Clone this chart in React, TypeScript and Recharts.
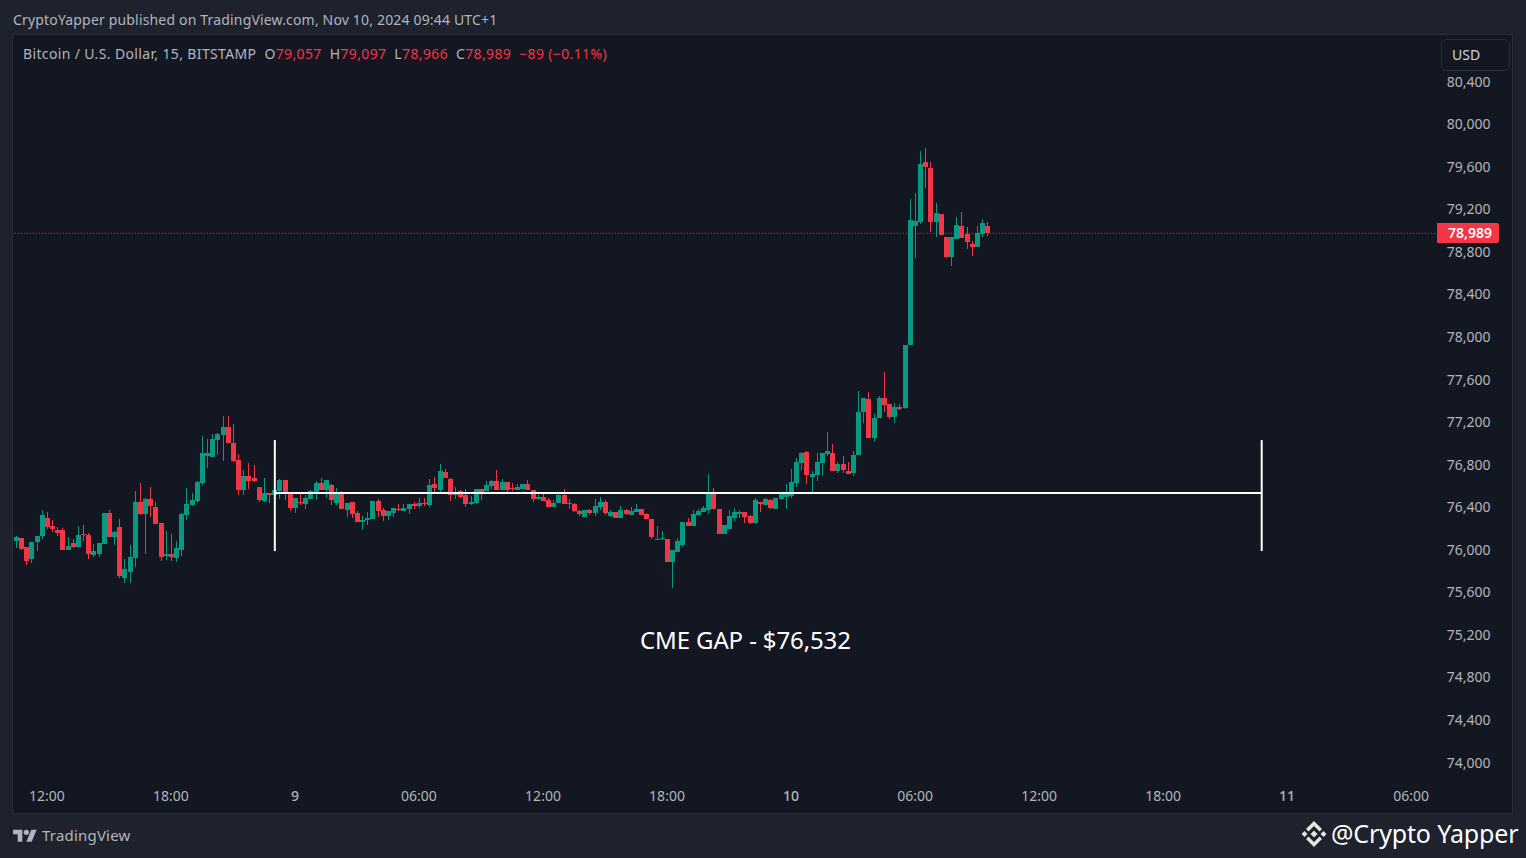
import { ComposedChart, Bar, XAxis, YAxis, ReferenceLine } from 'recharts'

// 15 minute candles, first one is 10:30 on Nov 8
const opens = [
  76097, 76125, 76041, 75928, 76088, 76144, 76313, 76238, 76201, 76201,
  76013, 76078, 76041, 76163, 76154, 75966, 75975, 76069, 76360, 76135,
  76229, 75749, 75806, 75937, 76464, 76351, 76492, 76417, 76266, 75956,
  75975, 75937, 76013, 76341, 76435, 76473, 76642, 76896, 76887, 77046,
  77093, 77169, 77018, 76858, 76576, 76708, 76689, 76605, 76473, 76548,
  76529, 76567, 76670, 76548, 76407, 76464, 76445, 76492, 76558, 76642,
  76576, 76623, 76454, 76558, 76388, 76464, 76360, 76276, 76295, 76304,
  76473, 76388, 76332, 76360, 76398, 76379, 76398, 76445, 76426, 76454,
  76435, 76633, 76576, 76746, 76680, 76529, 76567, 76529, 76445, 76454,
  76586, 76567, 76614, 76661, 76576, 76652, 76595, 76576, 76586, 76633,
  76576, 76492, 76511, 76482, 76417, 76454, 76529, 76448, 76445, 76379,
  76323, 76388, 76360, 76417, 76464, 76332, 76370, 76313, 76388, 76341,
  76370, 76398, 76351, 76304, 76107, 76113, 76116, 75900, 75994, 76060,
  76276, 76238, 76341, 76370, 76388, 76548, 76398, 76163, 76210, 76313,
  76351, 76370, 76332, 76266, 76464, 76435, 76482, 76398, 76492, 76511,
  76520, 76642, 76830, 76934, 76699, 76717, 76830, 76915, 76924, 76755,
  76821, 76755, 76736, 76905, 77310, 77432, 77065, 77253, 77441, 77385,
  77263, 77357, 77347, 77939, 79058, 79095, 79659, 79603, 79095, 79171,
  78954, 78766, 78936, 79058, 78983, 78889, 78860, 78983, 79057,
]
const highs = [
  76144, 76125, 76041, 76088, 76144, 76388, 76370, 76295, 76229, 76219,
  76135, 76116, 76238, 76248, 76172, 76069, 76078, 76360, 76388, 76191,
  76304, 75928, 76060, 76567, 76642, 76501, 76605, 76464, 76266, 76191,
  76163, 76097, 76360, 76595, 76548, 76661, 77084, 77056, 77103, 77112,
  77272, 77272, 77197, 76915, 76764, 76830, 76811, 76605, 76689, 76548,
  76661, 76680, 76670, 76548, 76501, 76539, 76529, 76576, 76661, 76689,
  76670, 76633, 76595, 76567, 76454, 76464, 76379, 76332, 76370, 76473,
  76492, 76407, 76379, 76407, 76445, 76445, 76445, 76464, 76501, 76501,
  76680, 76699, 76821, 76774, 76689, 76605, 76576, 76586, 76520, 76586,
  76586, 76661, 76670, 76764, 76680, 76652, 76642, 76633, 76633, 76670,
  76576, 76529, 76558, 76501, 76482, 76539, 76586, 76492, 76454, 76388,
  76388, 76398, 76492, 76511, 76482, 76388, 76370, 76426, 76398, 76417,
  76445, 76398, 76360, 76304, 76238, 76191, 76116, 76013, 76125, 76276,
  76313, 76388, 76398, 76426, 76727, 76595, 76398, 76248, 76388, 76407,
  76388, 76370, 76341, 76501, 76464, 76501, 76492, 76501, 76558, 76633,
  76774, 76877, 76934, 76943, 76755, 76924, 76924, 77122, 77009, 76840,
  76896, 76840, 76943, 77507, 77441, 77498, 77291, 77460, 77686, 77385,
  77394, 77385, 77939, 79312, 79368, 79763, 79791, 79659, 79274, 79171,
  78954, 78954, 79142, 79189, 79048, 78917, 79058, 79124, 79097,
]
const lows = [
  76031, 76013, 75872, 75890, 76003, 76116, 76210, 76182, 76144, 76013,
  76013, 76031, 76041, 76097, 75928, 75947, 75947, 76069, 76135, 76060,
  75749, 75702, 75702, 75853, 76341, 75975, 76323, 76257, 75909, 75919,
  75909, 75900, 75956, 76295, 76426, 76454, 76623, 76783, 76887, 76905,
  76849, 77018, 76840, 76529, 76529, 76586, 76652, 76464, 76464, 76454,
  76511, 76492, 76482, 76379, 76360, 76435, 76398, 76492, 76482, 76576,
  76501, 76435, 76435, 76398, 76323, 76313, 76276, 76201, 76248, 76304,
  76323, 76285, 76295, 76323, 76379, 76379, 76351, 76398, 76407, 76426,
  76417, 76558, 76558, 76689, 76473, 76492, 76501, 76417, 76435, 76445,
  76482, 76567, 76586, 76576, 76576, 76548, 76567, 76576, 76586, 76576,
  76464, 76482, 76473, 76417, 76417, 76454, 76445, 76398, 76370, 76332,
  76323, 76341, 76332, 76388, 76341, 76323, 76313, 76313, 76341, 76341,
  76370, 76341, 76304, 76116, 76107, 76107, 75900, 75655, 75994, 76041,
  76238, 76238, 76332, 76370, 76351, 76398, 76163, 76163, 76210, 76285,
  76313, 76266, 76257, 76257, 76370, 76435, 76398, 76398, 76482, 76398,
  76501, 76605, 76764, 76633, 76558, 76661, 76708, 76896, 76755, 76736,
  76736, 76727, 76708, 76905, 77206, 77065, 77028, 77253, 77310, 77244,
  77206, 77328, 77338, 77939, 78757, 79077, 79415, 79001, 78954, 78973,
  78757, 78682, 78936, 78945, 78842, 78776, 78860, 78954, 78966,
]
const closes = [
  76135, 76022, 75909, 76088, 76144, 76341, 76229, 76210, 76172, 76013,
  76050, 76041, 76154, 76154, 75975, 76003, 76078, 76360, 76135, 76182,
  75768, 75834, 75947, 76464, 76351, 76492, 76426, 76257, 75947, 75975,
  75947, 76031, 76351, 76445, 76482, 76652, 76924, 76924, 77056, 77103,
  77169, 77018, 76849, 76576, 76708, 76661, 76661, 76482, 76548, 76529,
  76576, 76670, 76548, 76407, 76501, 76454, 76501, 76567, 76642, 76576,
  76670, 76482, 76558, 76398, 76454, 76351, 76276, 76295, 76313, 76473,
  76379, 76332, 76379, 76407, 76388, 76407, 76445, 76426, 76454, 76451,
  76623, 76595, 76755, 76689, 76529, 76558, 76511, 76445, 76464, 76586,
  76558, 76623, 76661, 76576, 76652, 76576, 76586, 76605, 76633, 76576,
  76492, 76511, 76473, 76417, 76454, 76529, 76445, 76454, 76379, 76351,
  76388, 76360, 76426, 76464, 76360, 76370, 76313, 76388, 76351, 76379,
  76398, 76341, 76304, 76135, 76116, 76125, 75900, 76013, 76097, 76276,
  76238, 76351, 76379, 76407, 76548, 76398, 76163, 76248, 76332, 76370,
  76370, 76323, 76266, 76482, 76445, 76492, 76407, 76501, 76548, 76548,
  76652, 76840, 76924, 76717, 76727, 76840, 76924, 76943, 76755, 76821,
  76764, 76727, 76905, 77310, 77441, 77065, 77253, 77441, 77375, 77263,
  77357, 77338, 77939, 79114, 79105, 79641, 79612, 79095, 79180, 78973,
  78766, 78954, 79067, 78945, 78907, 78860, 78992, 79086, 78989,
]

const priceTicks = [74000, 74400, 74800, 75200, 75600, 76000, 76400, 76800, 77200, 77600, 78000, 78400, 78800, 79200, 79600, 80000, 80400]
const timeSlots = [6, 30, 54, 78, 102, 126, 150, 174, 198, 222, 246, 270]
const timeLabels = ['12:00', '18:00', '9', '06:00', '12:00', '18:00', '10', '06:00', '12:00', '18:00', '11', '06:00']
const boldLabels = ['9', '10', '11']

const lastPrice = 78989
const gapPrice = 76548
const gapTop = 77046
const gapBottom = 76003
const gapStart = 50
const gapEnd = 241
const slotCount = 275

const GREEN = '#089981'
const RED = '#f23645'
const FONT = '"Noto Sans", sans-serif'

const data = Array.from({ length: slotCount }, (_, slot) => ({
  slot,
  range: slot < opens.length ? [lows[slot], highs[slot]] : null,
  open: opens[slot],
  close: closes[slot],
}))

function Candle(props: any) {
  const { x, y, width, height, payload } = props
  if (!payload.range) return null
  const [low, high] = payload.range
  const perDollar = height / (high - low || 1)
  const color = payload.close >= payload.open ? GREEN : RED
  const top = y + (high - Math.max(payload.open, payload.close)) * perDollar
  const bottom = y + (high - Math.min(payload.open, payload.close)) * perDollar
  const left = Math.round(x + width / 2 - 2.5)
  return (
    <g shapeRendering="crispEdges">
      <rect x={left + 2} y={y} width={1} height={height} fill={color} />
      <rect x={left} y={top} width={5} height={Math.max(bottom - top, 1)} fill={color} />
    </g>
  )
}

function TimeTick(props: any) {
  const { x, y, index } = props
  const label = timeLabels[index]
  return (
    <text x={x - 0.5} y={y} textAnchor="middle" dominantBaseline="central" fontFamily={FONT} fontSize={14}
      fill="#b2b5be" fontWeight={boldLabels.includes(label) ? 500 : 400}>
      {label}
    </text>
  )
}

function Overlay({ left, top, size, color, children, weight, spacing }: any) {
  return (
    <div style={{ position: 'absolute', left, top, fontSize: size, color, fontFamily: FONT, lineHeight: 1, whiteSpace: 'pre', fontWeight: weight, letterSpacing: spacing }}>
      {children}
    </div>
  )
}

export default function App() {
  return (
    <div style={{ position: 'absolute', left: 0, top: 0, width: 1526, height: 858, background: '#1e222d', overflow: 'hidden' }}>
      <div style={{ position: 'absolute', left: 12, top: 34, width: 1501, height: 780, background: '#131722', border: '1px solid #2a2e39', boxSizing: 'border-box' }} />

      <div style={{ position: 'absolute', left: 0, top: 0 }}>
        <ComposedChart width={1526} height={858} data={data} barCategoryGap={0}
          margin={{ top: 35, right: 0, bottom: 45, left: 13.9 }}>
          <XAxis dataKey="slot" type="category" ticks={timeSlots} interval={0} height={33} axisLine={false} tickLine={false}
            tickSize={0} tickMargin={15.5} tick={<TimeTick />} />
          <YAxis orientation="right" width={91.2} domain={[73851, 80853]} ticks={priceTicks} allowDataOverflow
            axisLine={false} tickLine={false} tickSize={0} tickMargin={12} interval={0}
            tickFormatter={(v: number) => v.toLocaleString('en-US')}
            tick={{ fill: '#b2b5be', fontSize: 14, fontFamily: FONT, dy: -1.5 }} />
          <ReferenceLine y={lastPrice} stroke={RED} strokeWidth={1} strokeDasharray="1 2" />
          <Bar dataKey="range" isAnimationActive={false} shape={<Candle />} activeBar={false} />
          <ReferenceLine stroke="#ffffff" strokeWidth={2} segment={[{ x: gapStart, y: gapPrice }, { x: gapEnd, y: gapPrice }]} />
          <ReferenceLine stroke="#ffffff" strokeWidth={2} segment={[{ x: gapStart, y: gapTop }, { x: gapStart, y: gapBottom }]} />
          <ReferenceLine stroke="#ffffff" strokeWidth={2} segment={[{ x: gapEnd, y: gapTop }, { x: gapEnd, y: gapBottom }]} />
        </ComposedChart>
      </div>

      <Overlay left={13} top={12.5} size={14} color="#b2b5be" spacing={0.17}>CryptoYapper published on TradingView.com, Nov 10, 2024 09:44 UTC+1</Overlay>
      <div style={{ position: 'absolute', left: 23, top: 47, fontSize: 14, lineHeight: 1, color: '#b2b5be', fontFamily: FONT, whiteSpace: 'pre', letterSpacing: 0.36 }}>
        {'Bitcoin / U.S. Dollar, 15, BITSTAMP  O'}<span style={{ color: RED }}>79,057</span>
        {'  H'}<span style={{ color: RED }}>79,097</span>
        {'  L'}<span style={{ color: RED }}>78,966</span>
        {'  C'}<span style={{ color: RED }}>78,989</span>
        <span style={{ color: RED }}>{'  −89 (−0.11%)'}</span>
      </div>

      <div style={{ position: 'absolute', left: 1441, top: 39, width: 69, height: 32, boxSizing: 'border-box', border: '1px solid #2a2e39', borderRadius: 6, background: '#131722' }} />
      <Overlay left={1452} top={48} size={14} color="#d1d4dc">USD</Overlay>

      <div style={{ position: 'absolute', left: 1437, top: 223, width: 62, height: 20, background: RED, borderRadius: '0 2px 2px 0' }} />
      <Overlay left={1448} top={226} size={14} color="#ffffff" weight={600}>78,989</Overlay>

      <Overlay left={640} top={628} size={24} color="#ffffff" spacing={-0.12}>CME GAP - $76,532</Overlay>

      <svg style={{ position: 'absolute', left: 13, top: 827 }} width={24} height={18} viewBox="0 0 36 27">
        <path d="M14 22H7V11H0V4h14v18zM28 22h-8l7.5-18h8L28 22z" fill="#b2b5be" />
        <circle cx="20" cy="8" r="4" fill="#b2b5be" />
      </svg>
      <Overlay left={42} top={828} size={15} color="#b2b5be" spacing={0.2}>TradingView</Overlay>

      <svg style={{ position: 'absolute', left: 1300, top: 820 }} width={28} height={28} viewBox="0 0 28 28" fill="#e4e4e4">
        <path d="M14 1L22 9L19.5 11.5L14 6L8.5 11.5L6 9Z" />
        <path d="M14 27L22 19L19.5 16.5L14 22L8.5 16.5L6 19Z" />
        <path d="M14 10.5L17.5 14L14 17.5L10.5 14Z" />
        <path d="M4.5 11L7.5 14L4.5 17L1.5 14Z" />
        <path d="M23.5 11L26.5 14L23.5 17L20.5 14Z" />
      </svg>
      <Overlay left={1331} top={821} size={25} color="#ffffff" spacing={-0.15}>@Crypto Yapper</Overlay>
    </div>
  )
}
